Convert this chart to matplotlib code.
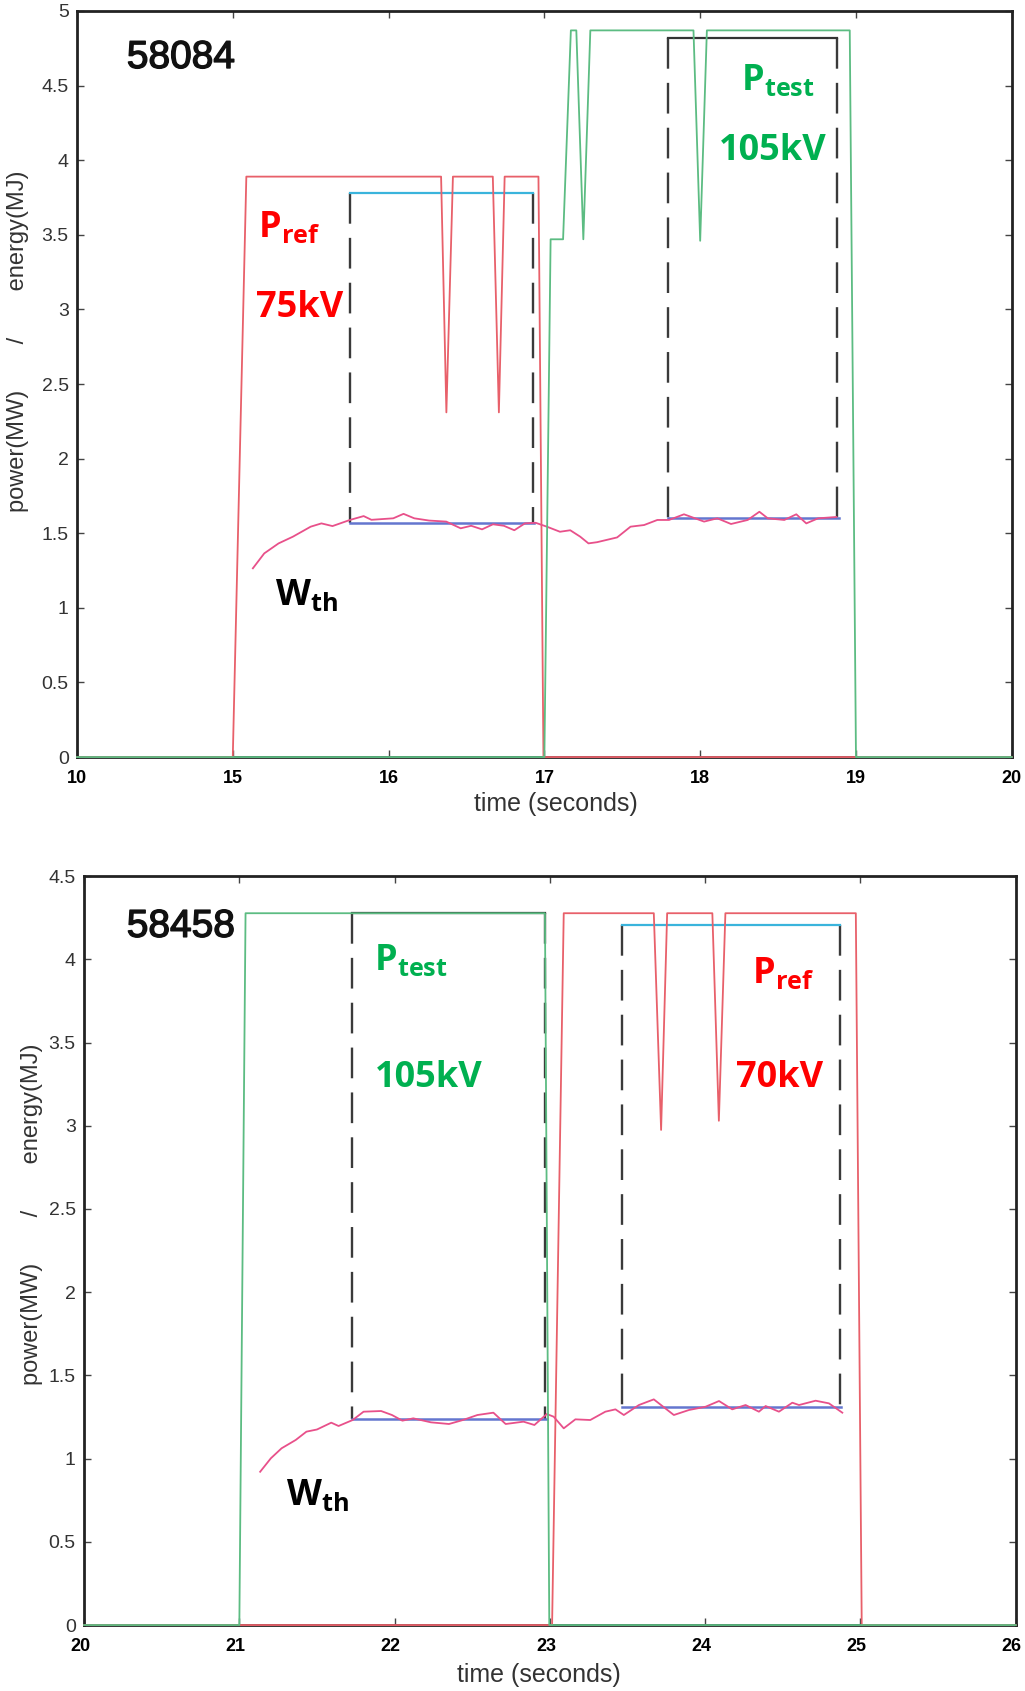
import matplotlib
matplotlib.use("Agg")
from matplotlib import pyplot as plt
from matplotlib.ticker import FormatStrFormatter
from matplotlib.transforms import ScaledTranslation
import matplotlib.patheffects as pe
import numpy as np

plt.rcParams['font.family'] = ['Liberation Sans', 'DejaVu Sans']
plt.rcParams['mathtext.fontset'] = 'custom'
plt.rcParams['mathtext.rm'] = 'Open Sans'
plt.rcParams['mathtext.bf'] = 'Open Sans:bold'

# ---- shot 58084 (top) ----
top_ref_t = [14, 15.0, 15.087, 16.337, 16.371, 16.413, 16.669, 16.708, 16.745, 16.962, 16.994, 20]
top_ref_p = [0, 0, 3.89, 3.89, 2.31, 3.89, 3.89, 2.31, 3.89, 3.89, 0, 0]
top_test_t = [14, 17.0, 17.04, 17.12, 17.17, 17.205, 17.25, 17.295, 17.957, 18.0, 18.043, 18.96, 19.0, 20]
top_test_p = [0, 0, 3.47, 3.47, 4.87, 4.87, 3.47, 4.87, 4.87, 3.46, 4.87, 4.87, 0, 0]
top_w_t = [15.129, 15.202, 15.294, 15.386, 15.5, 15.569, 15.64, 15.752, 15.84, 15.89, 16.03, 16.096,
           16.165, 16.26, 16.37, 16.463, 16.53, 16.6, 16.67, 16.74, 16.807, 16.875, 16.944, 17.016,
           17.10, 17.166, 17.23, 17.283, 17.338, 17.467, 17.553, 17.64, 17.725, 17.8, 17.896, 18.025,
           18.11, 18.198, 18.305, 18.38, 18.434, 18.54, 18.617, 18.681, 18.757, 18.875]
top_w = [1.265, 1.365, 1.432, 1.477, 1.544, 1.566, 1.548, 1.589, 1.615, 1.59, 1.60, 1.63,
         1.60, 1.585, 1.578, 1.533, 1.55, 1.526, 1.56, 1.55, 1.52, 1.566, 1.57, 1.544,
         1.51, 1.52, 1.477, 1.432, 1.44, 1.472, 1.544, 1.555, 1.589, 1.589, 1.627, 1.578,
         1.60, 1.562, 1.589, 1.644, 1.60, 1.589, 1.627, 1.566, 1.60, 1.609]
# averaging windows: (start, end, power mean, W mean)
top_win_ref = (15.752, 16.925, 3.78, 1.57)
top_win_test = (17.796, 18.879, 4.82, 1.60)
top_xticks = [14, 15, 16, 17, 18, 19, 20]
top_xticklabels = ['10', '15', '16', '17', '18', '19', '20']

# ---- shot 58458 (bottom) ----
bot_ref_t = [20, 23.014, 23.089, 23.669, 23.716, 23.755, 24.046, 24.088, 24.13, 24.97, 25.008, 26]
bot_ref_p = [0, 0, 4.277, 4.277, 2.975, 4.277, 4.277, 3.03, 4.277, 4.277, 0, 0]
bot_test_t = [20, 21.0, 21.04, 22.968, 22.996, 26]
bot_test_p = [0, 0, 4.277, 4.277, 0, 0]
bot_w_t = [21.134, 21.203, 21.272, 21.363, 21.432, 21.50, 21.592, 21.639, 21.73, 21.80, 21.913,
           21.983, 22.05, 22.12, 22.234, 22.35, 22.44, 22.533, 22.636, 22.715, 22.83, 22.9, 22.98,
           23.024, 23.089, 23.164, 23.26, 23.357, 23.422, 23.476, 23.573, 23.669, 23.798, 23.895,
           24.003, 24.089, 24.174, 24.26, 24.346, 24.389, 24.475, 24.561, 24.604, 24.711, 24.797, 24.883]
bot_w = [0.921, 1.002, 1.062, 1.112, 1.162, 1.175, 1.216, 1.196, 1.232, 1.282, 1.286,
         1.262, 1.228, 1.242, 1.218, 1.208, 1.232, 1.262, 1.276, 1.208, 1.222, 1.202, 1.268,
         1.252, 1.182, 1.236, 1.232, 1.282, 1.296, 1.262, 1.322, 1.356, 1.262, 1.292,
         1.312, 1.346, 1.296, 1.322, 1.282, 1.316, 1.282, 1.336, 1.322, 1.348, 1.332, 1.276]
bot_win_test = (21.726, 22.97, 4.28, 1.238)
bot_win_ref = (23.461, 24.867, 4.207, 1.312)
bot_xticks = [20, 21, 22, 23, 24, 25, 26]

RED = '#e8606a'
GREEN = '#5cbc82'
CYAN = '#3ab4dc'
BLUE = '#6476cf'
PINK = '#e8508a'
TXT_RED = '#ff0000'
TXT_GREEN = '#00b050'
YLABEL = 'power(MW)' + ' ' * 7 + '/' + ' ' * 7 + 'energy(MJ)'

fig = plt.figure(figsize=(10.25, 16.91), dpi=100)
ax1 = fig.add_axes([0.0751, 0.5523, 0.912, 0.4412])
ax2 = fig.add_axes([0.0820, 0.0390, 0.909, 0.4429])


def draw_window(ax, win, top_color):
    t0, t1, pm, wm = win
    ax.plot([t0, t1], [pm, pm], color=top_color, lw=1.6, zorder=4)
    for t in (t0, t1):
        ax.plot([t, t], [pm, wm], color='#3a3a3a', lw=1.7, dashes=(13, 6), zorder=3)
    ax.plot([t0, t1 + 0.01], [wm, wm], color=BLUE, lw=1.8, zorder=4)


def style(ax, xlim, ylim, xticks, yticks, xticklabels=None, xshift=0):
    ax.set_xlim(*xlim)
    ax.set_ylim(*ylim)
    ax.set_xticks(xticks)
    if xticklabels is not None:
        ax.set_xticklabels(xticklabels)
    ax.set_yticks(yticks)
    ax.yaxis.set_major_formatter(FormatStrFormatter('%g'))
    ax.tick_params(direction='in', top=True, right=True, length=5, width=1, color='#444')
    ax.tick_params(axis='x', pad=9, labelsize=13)
    ax.tick_params(axis='y', pad=6, labelsize=14, labelcolor='#333')
    off = ScaledTranslation(xshift / 100, 0, fig.dpi_scale_trans)
    for lab in ax.get_xticklabels():
        lab.set_fontweight('bold')
        lab.set_transform(lab.get_transform() + off)
    for sp in ax.spines.values():
        sp.set_linewidth(2)
        sp.set_color('#222')
    ax.set_xlabel('time (seconds)', fontsize=18, color='#333')
    ax.set_ylabel(YLABEL, fontsize=17, color='#333')


shot_fx = [pe.withStroke(linewidth=1.0, foreground='#111')]

# top panel
ax1.plot(top_ref_t, top_ref_p, color=RED, lw=1.3, zorder=5, clip_on=False)
ax1.plot(top_test_t, top_test_p, color=GREEN, lw=1.3, zorder=6, clip_on=False)
draw_window(ax1, top_win_ref, CYAN)
draw_window(ax1, top_win_test, '#333333')
ax1.plot(top_w_t, top_w, color=PINK, lw=1.3, zorder=5)
style(ax1, (14, 20), (0, 5), top_xticks, np.arange(0, 5.01, 0.5), top_xticklabels)
ax1.xaxis.set_label_coords(0.512, -0.047)
ax1.yaxis.set_label_coords(-0.051, 0.557)

ax1.text(14.32, 4.618, '58084', fontsize=28, color='#111', path_effects=shot_fx)
ax1.text(15.16, 3.485, r'$\mathbf{P_{ref}}$', fontsize=26, color=TXT_RED)
ax1.text(15.15, 2.949, '75kV', fontsize=26, color=TXT_RED, family='Open Sans', weight='bold')
ax1.text(15.27, 1.019, r'$\mathbf{W_{th}}$', fontsize=26, color='black')
ax1.text(18.26, 4.47, r'$\mathbf{P_{test}}$', fontsize=26, color=TXT_GREEN)
ax1.text(18.12, 4.0, '105kV', fontsize=26, color=TXT_GREEN, family='Open Sans', weight='bold')

# bottom panel
ax2.plot(bot_ref_t, bot_ref_p, color=RED, lw=1.3, zorder=5, clip_on=False)
ax2.plot(bot_test_t, bot_test_p, color=GREEN, lw=1.3, zorder=6, clip_on=False)
draw_window(ax2, bot_win_test, '#222222')
draw_window(ax2, bot_win_ref, CYAN)
ax2.plot(bot_w_t, bot_w, color=PINK, lw=1.3, zorder=5)
style(ax2, (20, 26), (0, 4.5), bot_xticks, np.arange(0, 4.51, 0.5), xshift=-4)
ax2.xaxis.set_label_coords(0.488, -0.051)
ax2.yaxis.set_label_coords(-0.044, 0.549)

ax2.text(20.275, 4.135, '58458', fontsize=28, color='#111', path_effects=shot_fx)
ax2.text(21.87, 3.936, r'$\mathbf{P_{test}}$', fontsize=26, color=TXT_GREEN)
ax2.text(21.87, 3.233, '105kV', fontsize=26, color=TXT_GREEN, family='Open Sans', weight='bold')
ax2.text(24.30, 3.858, r'$\mathbf{P_{ref}}$', fontsize=26, color=TXT_RED)
ax2.text(24.20, 3.233, '70kV', fontsize=26, color=TXT_RED, family='Open Sans', weight='bold')
ax2.text(21.30, 0.721, r'$\mathbf{W_{th}}$', fontsize=26, color='black')

fig.savefig('out.png', dpi=100)
